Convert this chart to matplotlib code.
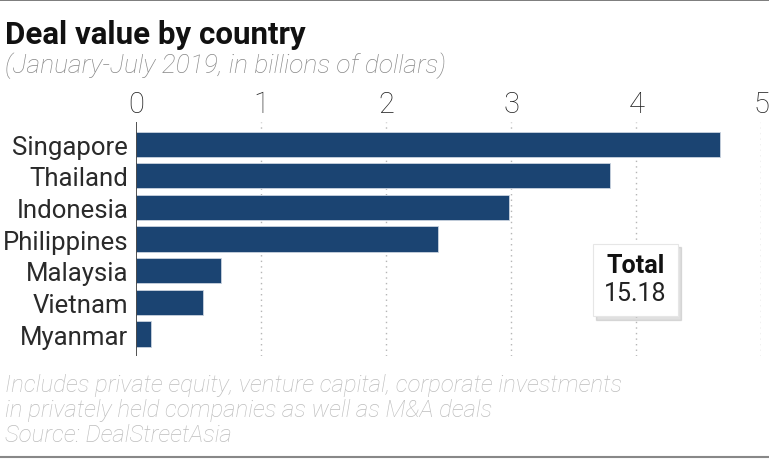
# Deal value by country - horizontal bar chart
import matplotlib
matplotlib.use('Agg')
import matplotlib.pyplot as plt
from matplotlib.patches import Rectangle

# Data
countries = ['Singapore', 'Thailand', 'Indonesia', 'Philippines',
             'Malaysia', 'Vietnam', 'Myanmar']
values = [4.67, 3.79, 2.98, 2.41, 0.68, 0.53, 0.12]
x_ticks = [0, 1, 2, 3, 4, 5]

# Styles
bar_color = '#1b4472'
font = 'Roboto'
text_kws = {'family': font, 'fontweight': 'normal'}

fig = plt.figure(figsize=(7.69, 4.6), dpi=100)
ax = fig.add_axes([0.1775, 0.2239, 0.8125, 0.5087])

# Bars
ax.barh(range(len(countries)), values, height=0.8, color=bar_color,
        edgecolor='#c9d3df', linewidth=0.6, zorder=3)
ax.set_ylim(6.69, -0.70)
ax.set_xlim(0, 5)

# Axis styling
for side in ['top', 'right', 'bottom', 'left']:
    ax.spines[side].set_visible(False)
ax.axvline(0, color='#333333', lw=1.2, zorder=4)
for t in x_ticks[1:]:
    ax.axvline(t, color='#b5b5b5', lw=1, ls=(0, (1, 3)), zorder=1)

ax.xaxis.tick_top()
ax.set_xticks(x_ticks)
ax.set_xticklabels([str(t) for t in x_ticks], fontsize=21, color='#222222',
                   family=font, fontweight='light')
ax.tick_params(axis='x', length=0, pad=3)
ax.set_yticks(range(len(countries)))
ax.set_yticklabels(countries, fontsize=18.5, color='#2a2a2a', **text_kws)
ax.tick_params(axis='y', length=0, pad=6)

# Total box with shadow
box_x, box_y, box_w, box_h = 0.7715, 0.311, 0.110, 0.157
fig.patches.append(Rectangle((box_x + 0.004, box_y - 0.008), box_w, box_h,
                             transform=fig.transFigure, color='#999999',
                             alpha=0.3, zorder=5))
fig.patches.append(Rectangle((box_x, box_y), box_w, box_h,
                             transform=fig.transFigure, facecolor='white',
                             edgecolor='#e6e6e6', lw=0.8, zorder=6))
fig.text(box_x + box_w / 2, box_y + box_h * 0.70, 'Total', ha='center',
         va='center', fontsize=18, fontweight='bold', family=font,
         color='#111111', zorder=7)
fig.text(box_x + box_w / 2, box_y + box_h * 0.32, f'{sum(values):.2f}',
         ha='center', va='center', fontsize=18, color='#222222', zorder=7,
         **text_kws)

# Titles
fig.text(0.006, 0.925, 'Deal value by country', fontsize=22.5,
         fontweight='bold', family=font, color='#111111', va='center')
fig.text(0.006, 0.857, '(January-July 2019, in billions of dollars)',
         fontsize=19, style='italic', color='#888888', va='center',
         family=font, fontweight='light')

# Footnote
notes = ['Includes private equity, venture capital, corporate investments',
         'in privately held companies as well as M&A deals',
         'Source: DealStreetAsia']
for i, line in enumerate(notes):
    fig.text(0.006, 0.161 - i * 0.054, line, fontsize=17.3, style='italic',
             color='#bdbdbd', va='center', family=font, fontweight='light')

# Rules at top and bottom
fig.add_artist(plt.Line2D([0, 1], [0.997, 0.997], color='#666666', lw=1.2,
                          transform=fig.transFigure))
fig.add_artist(plt.Line2D([0, 1], [0.004, 0.004], color='#888888', lw=1.5,
                          transform=fig.transFigure))

fig.savefig('out.png', dpi=100)
